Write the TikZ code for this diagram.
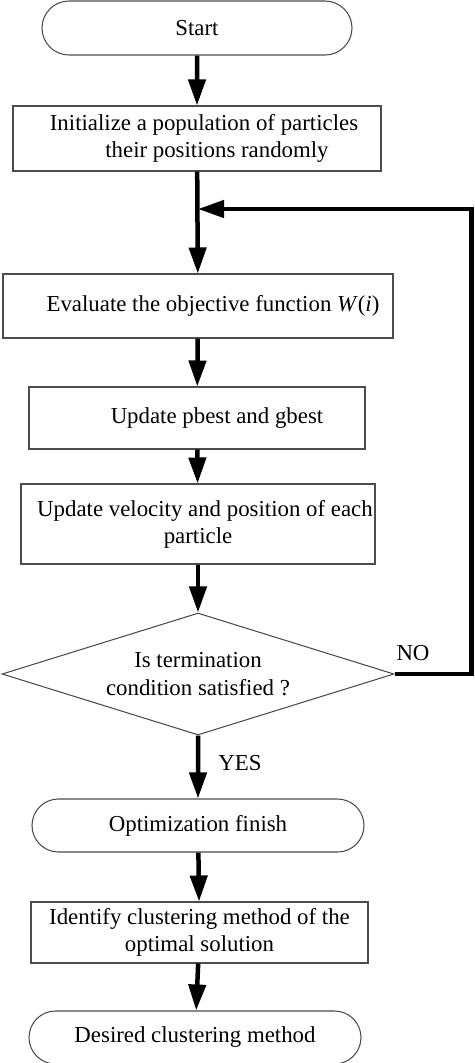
\documentclass[tikz,border=0pt]{standalone}
\usepackage{fontspec}
\setmainfont{Liberation Serif}
\usetikzlibrary{arrows.meta,shapes.geometric,shapes.misc}
\newcommand\pxl{0.02cm}
\begin{document}
\begin{tikzpicture}
[x=\pxl,y=-\pxl
,font=\fontsize{13}{15.5}\selectfont
,box/.style={draw=black!70,line width=0.6pt,align=center,inner sep=0pt}
,term/.style={box,rounded rectangle}
,proc/.style={box,rectangle}
,dec/.style={box,diamond,aspect=3.2}
,flow/.style={line width=4.5*\pxl,arrows={-Triangle[length=26*\pxl,width=17*\pxl]}}
]
\useasboundingbox (0,0) rectangle (474,1063);
\node[term,minimum width=310*\pxl,minimum height=54*\pxl] (start) at (197,28) {Start};
\node[proc,minimum width=368*\pxl,minimum height=65*\pxl] (init) at (197,138.5)
  {\hspace*{0.28cm}Initialize a population of particles\\\hspace*{0.8cm}their positions randomly};
\node[proc,minimum width=390*\pxl,minimum height=64*\pxl] (eval) at (198,306)
  {\hspace*{0.6cm}Evaluate the objective function \textit{W}(\textit{i})};
\node[proc,minimum width=336*\pxl,minimum height=62*\pxl] (upd) at (197,418)
  {\hspace*{0.8cm}Update pbest and gbest};
\node[proc,minimum width=354*\pxl,minimum height=80*\pxl] (vel) at (198,524)
  {\hspace*{0.28cm}Update velocity and position of each\\particle};
\node[dec,minimum width=392*\pxl,minimum height=122*\pxl] (cond) at (198,674)
  {Is termination\\condition satisfied ?};
\node[term,minimum width=332*\pxl,minimum height=53*\pxl] (fin) at (198,825.5) {Optimization finish};
\node[proc,minimum width=337*\pxl,minimum height=61*\pxl] (ident) at (199.5,932.5)
  {Identify clustering method of the\\optimal solution};
\node[term,minimum width=332*\pxl,minimum height=53*\pxl] (want) at (195,1037.5) {Desired clustering method};
\node (no) at (413,653) {NO};
\node (yes) at (240,763) {YES};
\coordinate (join) at (198,209);
\draw[flow] (start) -- (init);
\draw[flow] (init) -- (eval);
\draw[flow] (eval) -- (upd);
\draw[flow] (upd) -- (vel);
\draw[flow] (vel) -- (cond);
\draw[flow] (cond) -- (fin);
\draw[flow] (fin) -- (ident);
\draw[flow] (ident) -- (want);
\draw[flow] (cond.east) -- ++(77,0) |- (join);
\end{tikzpicture}
\end{document}
